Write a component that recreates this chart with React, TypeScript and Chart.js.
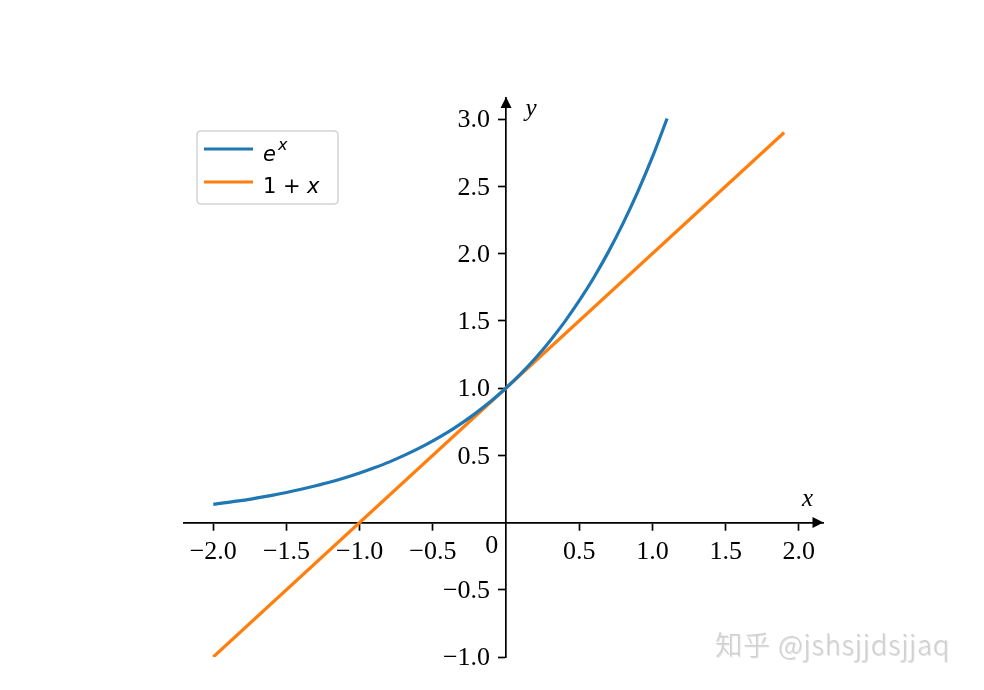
import React, { useEffect, useRef } from "react";
import { Chart, registerables } from "chart.js";

Chart.register(...registerables);

// e^x curve samples
const expX = [-2.0, -1.9, -1.8, -1.7, -1.6, -1.5, -1.4, -1.3, -1.2, -1.1, -1.0, -0.9, -0.8, -0.7, -0.6, -0.5, -0.4, -0.3, -0.2, -0.1, 0.0, 0.1, 0.2, 0.3, 0.4, 0.5, 0.6, 0.7, 0.8, 0.9, 1.0, 1.1];
const expY = [0.135, 0.150, 0.165, 0.183, 0.202, 0.223, 0.247, 0.273, 0.301, 0.333, 0.368, 0.407, 0.449, 0.497, 0.549, 0.607, 0.670, 0.741, 0.819, 0.905, 1.0, 1.105, 1.221, 1.350, 1.492, 1.649, 1.822, 2.014, 2.226, 2.460, 2.718, 3.004];

// 1 + x line endpoints
const linX = [-2.0, 1.9];
const linY = [-1.0, 2.9];

const seriesLabels = ["e^x", "1 + x"];
const seriesColors = ["#1f77b4", "#ff7f0e"];

const xTicks = [-2.0, -1.5, -1.0, -0.5, 0.5, 1.0, 1.5, 2.0];
const xTickLabels = ["\u22122.0", "\u22121.5", "\u22121.0", "\u22120.5", "0.5", "1.0", "1.5", "2.0"];
const yTicks = [-1.0, -0.5, 0.5, 1.0, 1.5, 2.0, 2.5, 3.0];
const yTickLabels = ["\u22121.0", "\u22120.5", "0.5", "1.0", "1.5", "2.0", "2.5", "3.0"];

const xRange = [-2.2, 2.165];
const yRange = [-1.0, 3.16];

const SERIF = "'Liberation Serif', 'Times New Roman', serif";
const SANS = "'DejaVu Sans', sans-serif";
const TICK_FONT = 26;

const decorPlugin = {
  id: "decor",
  beforeDraw(chart: any) {
    // y axis sits at x = 0: push its labels left of the tick marks
    const ys = chart.scales.y;
    const items = ys.getLabelItems(chart.chartArea);
    items.forEach((it: any) => {
      if (!it.__shifted) {
        it.options.translation[0] -= 16;
        it.options.translation[1] += 1.5;
        it.__shifted = true;
      }
    });
  },
  afterDraw(chart: any) {
    const ctx = chart.ctx;
    const xs = chart.scales.x;
    const ys = chart.scales.y;
    const area = chart.chartArea;
    const x0 = xs.getPixelForValue(0);
    const y0 = ys.getPixelForValue(0);
    ctx.save();
    // arrows
    ctx.fillStyle = "#000";
    ctx.beginPath();
    ctx.moveTo(area.right + 0.5, y0);
    ctx.lineTo(area.right - 10.5, y0 - 5.5);
    ctx.lineTo(area.right - 10.5, y0 + 5.5);
    ctx.closePath();
    ctx.fill();
    ctx.beginPath();
    ctx.moveTo(x0, area.top - 0.5);
    ctx.lineTo(x0 - 5.5, area.top + 10.5);
    ctx.lineTo(x0 + 5.5, area.top + 10.5);
    ctx.closePath();
    ctx.fill();

    // axis names
    ctx.font = `italic 25px ${SERIF}`;
    ctx.textAlign = "center";
    ctx.textBaseline = "alphabetic";
    ctx.fillText("x", xs.getPixelForValue(2.06), ys.getPixelForValue(0.12));
    ctx.fillText("y", xs.getPixelForValue(0.17), ys.getPixelForValue(3.02));

    // origin label
    ctx.font = `${TICK_FONT}px ${SERIF}`;
    ctx.fillText("0", xs.getPixelForValue(-0.097), ys.getPixelForValue(-0.23));

    // legend
    const lx = 197, ly = 131, lw = 141, lh = 73, r = 4;
    ctx.beginPath();
    ctx.moveTo(lx + r, ly);
    ctx.lineTo(lx + lw - r, ly);
    ctx.quadraticCurveTo(lx + lw, ly, lx + lw, ly + r);
    ctx.lineTo(lx + lw, ly + lh - r);
    ctx.quadraticCurveTo(lx + lw, ly + lh, lx + lw - r, ly + lh);
    ctx.lineTo(lx + r, ly + lh);
    ctx.quadraticCurveTo(lx, ly + lh, lx, ly + lh - r);
    ctx.lineTo(lx, ly + r);
    ctx.quadraticCurveTo(lx, ly, lx + r, ly);
    ctx.closePath();
    ctx.fillStyle = "rgba(255,255,255,0.85)";
    ctx.fill();
    ctx.strokeStyle = "#d3d3d3";
    ctx.lineWidth = 1.5;
    ctx.stroke();

    const ds = chart.data.datasets;
    const rows = [149, 182];
    ds.forEach((d: any, i: number) => {
      ctx.strokeStyle = d.borderColor;
      ctx.lineWidth = 3;
      ctx.beginPath();
      ctx.moveTo(204, rows[i]);
      ctx.lineTo(253, rows[i]);
      ctx.stroke();
    });
    ctx.fillStyle = "#000";
    ctx.textAlign = "left";
    ctx.textBaseline = "alphabetic";
    // e^x
    ctx.font = `oblique 21px ${SANS}`;
    ctx.fillText("e", 263, 161);
    ctx.font = `oblique 16px ${SANS}`;
    ctx.fillText("x", 278, 150);
    // 1 + x
    ctx.font = `21px ${SANS}`;
    ctx.fillText("1", 263, 193);
    ctx.fillText("+", 283, 193);
    ctx.font = `oblique 21px ${SANS}`;
    ctx.fillText("x", 307, 193);

    // watermark
    ctx.font = `300 27px 'Noto Sans CJK SC', sans-serif`;
    (ctx as any).letterSpacing = "1px";
    ctx.fillStyle = "rgba(150,150,150,0.3)";
    ctx.fillText("\u77e5\u4e4e @jshsjjdsjjaq", 716, 656);
    ctx.fillStyle = "rgba(208,208,208,1)";
    ctx.fillText("\u77e5\u4e4e @jshsjjdsjjaq", 715, 655);
    ctx.restore();
  },
};

export default function App() {
  const ref = useRef<HTMLCanvasElement | null>(null);
  useEffect(() => {
    if (!ref.current) return;
    const axisCommon = {
      type: "linear" as const,
      grid: {
        display: true,
        drawOnChartArea: false,
        drawTicks: true,
        tickLength: 7,
        tickWidth: 1.7,
        tickColor: "#000",
      },
      border: { display: true, color: "#000", width: 1.7 },
    };
    const chart = new Chart(ref.current, {
      type: "scatter",
      data: {
        datasets: [
          {
            label: seriesLabels[0],
            data: expX.map((x, i) => ({ x, y: expY[i] })),
            showLine: true,
            borderColor: seriesColors[0],
            backgroundColor: seriesColors[0],
            borderWidth: 3.2,
            pointRadius: 0,
            cubicInterpolationMode: "monotone",
          },
          {
            label: seriesLabels[1],
            data: linX.map((x, i) => ({ x, y: linY[i] })),
            showLine: true,
            borderColor: seriesColors[1],
            backgroundColor: seriesColors[1],
            borderWidth: 3.2,
            pointRadius: 0,
          },
        ],
      },
      options: {
        animation: false,
        responsive: false,
        devicePixelRatio: 1,
        layout: { padding: { left: 184, right: 161, top: 97.5, bottom: 33 } },
        plugins: { legend: { display: false }, tooltip: { enabled: false } },
        scales: {
          x: {
            ...axisCommon,
            position: { y: 0 },
            min: xRange[0],
            max: xRange[1],
            afterBuildTicks: (s: any) => {
              s.ticks = xTicks.map((v) => ({ value: v }));
            },
            ticks: {
              autoSkip: false,
              maxRotation: 0,
              includeBounds: false,
              padding: 7,
              color: "#000",
              font: { family: SERIF, size: TICK_FONT },
              callback: (v: any) => xTickLabels[xTicks.indexOf(Number(v))] ?? "",
            },
          },
          y: {
            ...axisCommon,
            position: { x: 0 },
            min: yRange[0],
            max: yRange[1],
            afterBuildTicks: (s: any) => {
              s.ticks = yTicks.map((v) => ({ value: v }));
            },
            ticks: {
              autoSkip: false,
              includeBounds: false,
              padding: 7,
              color: "#000",
              font: { family: SERIF, size: TICK_FONT },
              callback: (v: any) => yTickLabels[yTicks.indexOf(Number(v))] ?? "",
            },
          },
        },
      } as any,
      plugins: [decorPlugin],
    });
    return () => chart.destroy();
  }, []);
  return (
    <div style={{ position: "absolute", left: 0, top: 0, width: 984, height: 690, background: "#fff" }}>
      <canvas ref={ref} width={984} height={690} style={{ display: "block" }} />
    </div>
  );
}
